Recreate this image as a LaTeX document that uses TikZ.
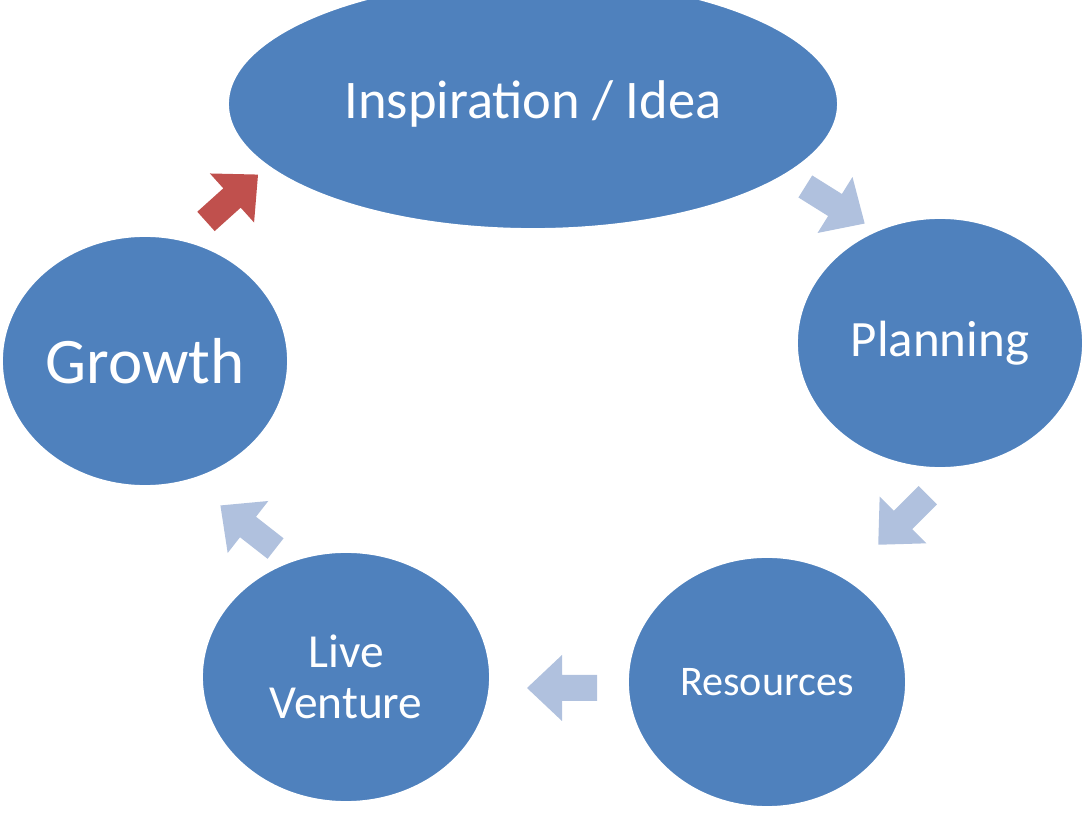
\documentclass[tikz,border=0pt]{standalone}
\usepackage{fontspec}
\setmainfont{Carlito}
\definecolor{stageblue}{HTML}{4F81BD}
\definecolor{arrowpale}{HTML}{B0C1DE}
\definecolor{arrowred}{HTML}{C0504D}
\tikzset{
  stage/.style={ellipse, fill=stageblue, draw=white, line width=1pt, text=white, align=center, inner sep=0pt},
  blockarrow/.pic={
    \fill[pic actions] (-35,-13) -- (0,-13) -- (0,-33) -- (35,0) -- (0,33) -- (0,13) -- (-35,13) -- cycle;
  }
}
\usetikzlibrary{shapes.geometric}
\begin{document}
\begin{tikzpicture}[x=0.02cm,y=-0.02cm]
\useasboundingbox (0,0) rectangle (1090,834);
\clip (0,0) rectangle (1090,834);
% Stages of the cycle
\node[stage, minimum width=610\pgflinewidth*0+12.2cm, minimum height=5cm, font=\fontsize{31}{36}\selectfont] (idea) at (533,104) {Inspiration / Idea};
\node[stage, minimum width=5.72cm, minimum height=5cm, font=\fontsize{29}{34}\selectfont] (plan) at (940,343) {Planning};
\node[stage, minimum width=5.56cm, minimum height=5cm, font=\fontsize{24}{28}\selectfont] (res) at (767,682) {Resources};
\node[stage, minimum width=5.76cm, minimum height=5cm, font=\fontsize{27}{29}\selectfont] (live) at (346,677) {Live\\Venture};
\node[stage, minimum width=5.72cm, minimum height=5cm, font=\fontsize{37}{42}\selectfont] (grow) at (145,361) {Growth};

% Arrows between the stages
\pic[fill=arrowpale, rotate=-32] at (835,205) {blockarrow};
\pic[fill=arrowpale, rotate=-135] at (903,520) {blockarrow};
\pic[fill=arrowpale, rotate=180] at (562,688) {blockarrow};
\pic[fill=arrowpale, rotate=142] at (248,527) {blockarrow};
\pic[fill=arrowred, rotate=42] at (232,198) {blockarrow};
\end{tikzpicture}
\end{document}
